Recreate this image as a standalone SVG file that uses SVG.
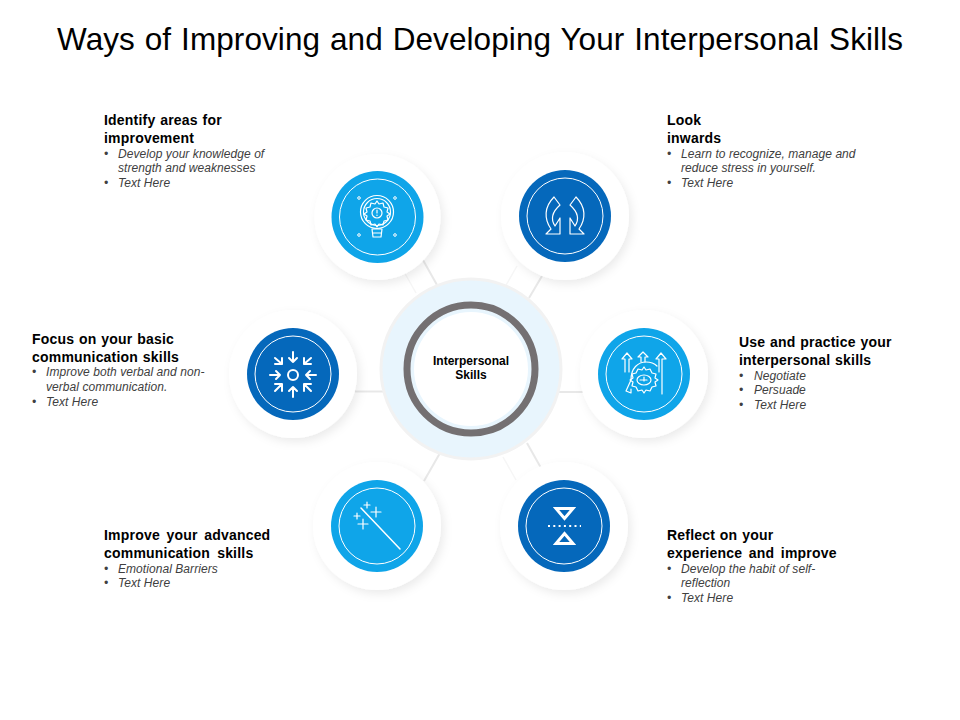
<svg xmlns="http://www.w3.org/2000/svg" width="960" height="720" viewBox="0 0 960 720">
<defs>
<style>
text{font-family:"Liberation Sans",Arial,sans-serif;fill:#000}
.t{font-size:31.500px;word-spacing:1px}
.h{font-size:14px;font-weight:700;letter-spacing:.2px;word-spacing:.7px}
.b{font-size:12px;font-style:italic;fill:#404040;letter-spacing:.06px}
.c{font-size:12px;font-weight:700;text-anchor:middle}
.ic{fill:none;stroke:#fff;stroke-width:1.200;stroke-linecap:round;stroke-linejoin:round}
.ib{fill:none;stroke:#fff;stroke-width:2;stroke-linecap:round;stroke-linejoin:round}
.ring{fill:none;stroke:#fff;stroke-width:1}
.halo{fill:#fff;filter:url(#sh)}
.lb{fill:#0fa5e9}
.db{fill:#0568bb}
.con{stroke:#e8e8e8;stroke-width:2;fill:none;filter:url(#soft)}
.con2{stroke:#f6f6f6;stroke-width:1.500;fill:none}
</style>
<filter id="sh" x="-30%" y="-30%" width="160%" height="160%"><feDropShadow dx="3" dy="4" stdDeviation="5" flood-color="#000" flood-opacity="0.08"/></filter>
<filter id="soft" x="0" y="0" width="960" height="720" filterUnits="userSpaceOnUse"><feGaussianBlur stdDeviation="0.6"/></filter>
</defs>
<rect width="960" height="720" fill="#fff"/>
<text class="t" x="57" y="50" textLength="846" lengthAdjust="spacing">Ways of Improving and Developing Your Interpersonal Skills</text>
<g id="connectors">
<line class="con" x1="423" y1="260" x2="437" y2="285"/>
<line class="con2" x1="403" y1="270" x2="416" y2="293"/>
<line class="con" x1="542" y1="276" x2="529" y2="298"/>
<line class="con2" x1="517" y1="266" x2="505" y2="287"/>
<line class="con" x1="355" y1="391.500" x2="385" y2="391.500"/>
<line class="con" x1="558" y1="392" x2="584" y2="392"/>
<line class="con" x1="440" y1="453" x2="424" y2="481"/>
<line class="con" x1="527" y1="443" x2="541" y2="468"/>
<line class="con2" x1="503" y1="457" x2="516" y2="480"/>
</g>
<g id="node-tl">
<circle class="halo" cx="377.500" cy="217" r="63"/><circle class="lb" cx="377.500" cy="217" r="46"/><circle class="ring" cx="377.500" cy="217" r="38"/>
<g class="ic"><circle cx="377" cy="212" r="16.500"/><circle cx="377" cy="212" r="13.500"/><path d="M377 201l2 3 4-1 1 4 4 1-1 4 3 2-3 2 1 4-4 1-1 4-4-1-2 3-2-3-4 1-1-4-4-1 1-4-3-2 3-2-1-4 4-1 1-4 4 1z"/><circle cx="377" cy="213" r="5"/><path d="M377 210v3M377 215v.5M372 229h10l-1 8h-8zM373 233h8"/></g>
<g fill="none" stroke="#fff"><circle cx="359" cy="198" r="1.300"/><circle cx="395" cy="198" r="1.300"/><circle cx="359" cy="235" r="1.300"/><circle cx="395" cy="235" r="1.300"/></g>
</g>
<g id="node-tr">
<circle class="halo" cx="565" cy="216" r="64"/><circle class="db" cx="565" cy="216" r="46"/><circle class="ring" cx="565" cy="216" r="38"/>
<g class="ic"><path d="M554 197L560 205C551 213 551 220 555 226L560 218V234H546L551 229C544 219 544 207 554 197Z"/><path d="M576 197L570 205C579 213 579 220 575 226L570 218V234H584L579 229C586 219 586 207 576 197Z"/></g>
</g>
<g id="node-l">
<circle class="halo" cx="293" cy="374" r="64"/><circle class="db" cx="293" cy="374" r="46"/><circle class="ring" cx="293" cy="374" r="38"/>
<circle cx="293" cy="375" r="5" fill="none" stroke="#fff" stroke-width="2"/>
<g class="ib"><path d="M293 352v10M289 358l4 4 4-4M293 397v-10M289 391l4-4 4 4M270 375h10M276 371l4 4-4 4M316 375h-10M310 371l-4 4 4 4"/><path d="M275 358l7 6M282 358v6h-7M311 358l-7 6M304 358v6h7M275 391l7-7M275 384h7v7M311 391l-7-7M311 384h-7v7"/></g>
</g>
<g id="node-r">
<circle class="halo" cx="644" cy="374" r="64"/><circle class="lb" cx="644" cy="374" r="46"/><circle class="ring" cx="644" cy="374" r="38"/>
<g class="ic"><path d="M625 372V359h-3l5-6 5 6h-3v13M641 362v-5h-3l5-5 5 5h-3v5M659 372V359h-3l5-6 5 6h-4v35"/><path d="M631 393l-5-2 5-11C631 368 638 362 646 362C650 362 654 363 657 366M631 393v-4"/><path d="M644 367l2 3 4-1 2 4 4 1-1 4 3 2-3 2 1 4-4 1-2 4-4-1-2 3-2-3-4 1-2-4-4-1 1-4-3-2 3-2-1-4 4-1 2-4 4 1z"/><ellipse cx="644" cy="380" rx="7" ry="5"/><path d="M640 380h7M644 377v4"/></g>
</g>
<g id="node-bl">
<circle class="halo" cx="377" cy="526" r="64"/><circle class="lb" cx="377" cy="526" r="46"/><circle class="ring" cx="377" cy="526" r="38"/>
<g class="ic"><path d="M361 508l39 41" stroke-width="1.500"/><path d="M367 502v6M364 505h6M376 507v10M371 512h10M357 513v6M354 516h6M363 519v10M358 524h10"/></g>
</g>
<g id="node-br">
<circle class="halo" cx="564" cy="526" r="64"/><circle class="db" cx="564" cy="526" r="46"/><circle class="ring" cx="564" cy="526" r="38"/>
<path d="M556 508.500h17l-8.500 10z M556 543.500h17l-8.500-10z" fill="none" stroke="#fff" stroke-width="3"/>
<path d="M548 526h33" stroke="#fff" stroke-width="2" stroke-dasharray="2 3.300" fill="none"/>
</g>
<g id="node-center">
<circle cx="471" cy="369" r="90" fill="#e8f5fd" stroke="#f2f2f2" stroke-width="3"/>
<circle cx="471" cy="369" r="57" fill="#fff"/>
<circle cx="471" cy="369" r="64" fill="none" stroke="#747072" stroke-width="7"/>
<text class="c"><tspan x="471" y="365">Interpersonal</tspan><tspan x="471" y="379">Skills</tspan></text>
</g>
<g id="label-tl"><text class="h"><tspan x="104" y="124.500">Identify areas for</tspan><tspan x="104" y="142.500">improvement</tspan></text>
<text class="b"><tspan x="104" y="158">•</tspan><tspan x="118" y="158">Develop your knowledge of</tspan><tspan x="118" y="172">strength and weaknesses</tspan><tspan x="104" y="187">•</tspan><tspan x="118" y="187">Text Here</tspan></text></g>
<g id="label-tr"><text class="h"><tspan x="667" y="124.500">Look</tspan><tspan x="667" y="142.500">inwards</tspan></text>
<text class="b"><tspan x="667" y="158">•</tspan><tspan x="681" y="158">Learn to recognize, manage and</tspan><tspan x="681" y="172">reduce stress in yourself.</tspan><tspan x="667" y="187">•</tspan><tspan x="681" y="187">Text Here</tspan></text></g>
<g id="label-l"><text class="h"><tspan x="32" y="343.500">Focus on your basic</tspan><tspan x="32" y="361.500">communication skills</tspan></text>
<text class="b"><tspan x="32" y="376">•</tspan><tspan x="46" y="376">Improve both verbal and non-</tspan><tspan x="46" y="391">verbal communication.</tspan><tspan x="32" y="406">•</tspan><tspan x="46" y="406">Text Here</tspan></text></g>
<g id="label-r"><text class="h"><tspan x="739" y="346.500">Use and practice your</tspan><tspan x="739" y="364.500">interpersonal skills</tspan></text>
<text class="b"><tspan x="739" y="380">•</tspan><tspan x="754" y="380">Negotiate</tspan><tspan x="739" y="394">•</tspan><tspan x="754" y="394">Persuade</tspan><tspan x="739" y="409">•</tspan><tspan x="754" y="409">Text Here</tspan></text></g>
<g id="label-bl"><text class="h"><tspan x="104" y="539.500" word-spacing="2.500">Improve your advanced</tspan><tspan x="104" y="557.500" word-spacing="3">communication skills</tspan></text>
<text class="b"><tspan x="104" y="573">•</tspan><tspan x="118" y="573">Emotional Barriers</tspan><tspan x="104" y="587">•</tspan><tspan x="118" y="587">Text Here</tspan></text></g>
<g id="label-br"><text class="h"><tspan x="667" y="539.500">Reflect on your</tspan><tspan x="667" y="557.500" word-spacing="2.500">experience and improve</tspan></text>
<text class="b"><tspan x="667" y="573">•</tspan><tspan x="681" y="573">Develop the habit of self-</tspan><tspan x="681" y="587">reflection</tspan><tspan x="667" y="602">•</tspan><tspan x="681" y="602">Text Here</tspan></text></g>
</svg>
